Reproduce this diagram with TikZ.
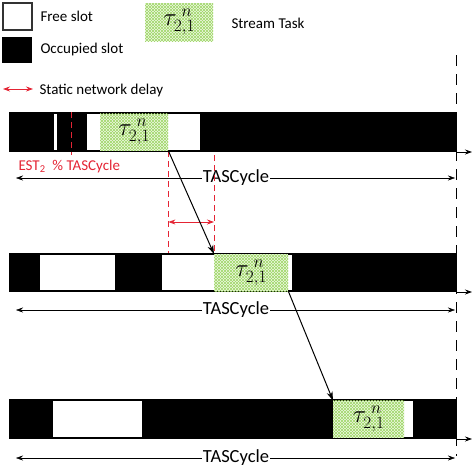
\documentclass[tikz,border=0pt]{standalone}
\usepackage{fontspec}
\setmainfont{Carlito}
\usepackage{amsmath}
\usetikzlibrary{patterns, arrows.meta}
\definecolor{delayred}{RGB}{228,36,52}
\definecolor{taskfill}{RGB}{238,248,228}
\definecolor{taskline}{RGB}{160,216,104}
\newcommand{\taskLabel}[0]{{\fontsize{23}{26}\selectfont$\tau_{2,1}^{\;n}$}}
\newcommand{\cycleFont}[0]{\fontsize{18.5}{21}\selectfont}
\newcommand{\legendFont}[0]{\fontsize{15}{17}\selectfont}

\begin{document}
\begin{tikzpicture}[x=1pt, y=-1pt, >={Stealth[length=7pt, width=5pt]}]
  \tikzset{
    task/.style={anchor=north west, inner sep=0pt, fill=taskfill,
      postaction={pattern=north east lines, pattern color=taskline},
      postaction={pattern=north west lines, pattern color=taskline}},
    freebox/.style={fill=white},
    cycle/.style={font=\cycleFont, inner sep=1pt},
    legend/.style={anchor=west, font=\legendFont},
    delay/.style={delayred, thick, dash pattern=on 6pt off 4pt},
    move/.style={->, line width=1pt, >={Stealth[length=9pt, width=6pt]}}
  }
  \useasboundingbox (0,0) rectangle (474,469);

  % legend
  \draw[line width=1.5pt, black!80] (3,3) rectangle (32,30);
  \node[legend] (lfree) at (37,16) {Free slot};
  \fill (2,37) rectangle (32,63);
  \node[legend] (locc) at (37,49) {Occupied slot};
  \coordinate (ld1) at (3,89);
  \coordinate (ld2) at (33,89);
  \draw[<->, delayred, thick] (ld1) -- (ld2);
  \node[legend] (ldelay) at (36,90) {Static network delay};
  \node[task, minimum width=68pt, minimum height=38pt] (ltask) at (145,3) {\taskLabel};
  \node[legend] (lstream) at (228,23) {Stream Task};

  % cycle boundary
  \draw[dash pattern=on 11pt off 8pt, thick] (456,55) -- (456,456);

  % row 1
  \fill (9,112) rectangle (457,152);
  \fill[freebox] (54,114) rectangle (57,150);
  \fill[freebox] (87,114) rectangle (200,150);
  \node[task, minimum width=68pt, minimum height=37pt] (t1) at (100,113.5) {\taskLabel};
  \draw[delay] (71,112) -- (71,155);
  \node[anchor=west, delayred, font=\legendFont] (est) at (15,166)
    {EST\textsubscript{2}~ \% TASCycle};
  \draw[->, thick] (457,152) -- (472,152);
  \node[cycle] (c1) at (236,178) {TASCycle};
  \draw[->] (c1.west) -- (16,178);
  \draw[->] (c1.east) -- (455,178);

  % row 2
  \fill (9,253) rectangle (457,292);
  \fill[freebox] (40,255) rectangle (115,290);
  \fill[freebox] (162,255) rectangle (292,290);
  \node[task, minimum width=74pt, minimum height=37pt] (t2) at (214,254) {\taskLabel};
  \draw[->, thick] (457,292) -- (472,292);
  \node[cycle] (c2) at (236,310) {TASCycle};
  \draw[->] (c2.west) -- (16,310);
  \draw[->] (c2.east) -- (455,310);

  % row 3
  \fill (9,399) rectangle (457,439);
  \fill[freebox] (53,401) rectangle (142,437);
  \fill[freebox] (333,401) rectangle (413,437);
  \node[task, minimum width=71pt, minimum height=37pt] (t3) at (333,400.5) {\taskLabel};
  \draw[->, thick] (457,439) -- (472,439);
  \node[cycle] (c3) at (236,458) {TASCycle};
  \draw[->] (c3.west) -- (16,458);
  \draw[->] (c3.east) -- (455,458);

  % static network delay
  \coordinate (d1) at (t1.south east |- 0,253);
  \coordinate (d2) at (t2.north west |- 0,155);
  \draw[delay] (t1.south east) -- (d1);
  \draw[delay] (d2) -- (t2.north west);
  \draw[<->, delayred, thick] (t1.south east |- 0,222) -- (t2.north west |- 0,222);

  % task moves
  \draw[move] (t1.south east) -- (t2.north west);
  \draw[move] (t2.south east) -- (t3.north west);
\end{tikzpicture}
\end{document}
